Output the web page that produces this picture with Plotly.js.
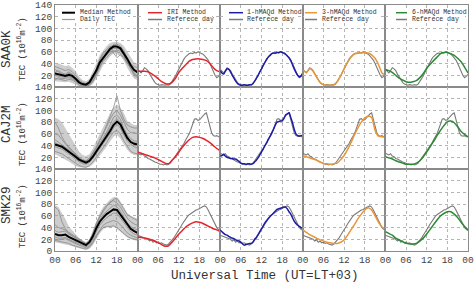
<!DOCTYPE html>
<html>
<head>
<meta charset="utf-8">
<script src="https://cdn.plot.ly/plotly-3.0.1.min.js"></script>
<style>
  html, body { margin: 0; padding: 0; background: #fff; }
  #chart { width: 474px; height: 284px; }
</style>
</head>
<body>
<div id="chart"></div>
<script>
// Stations (rows) and forecasting methods (columns 2-5)
const stations = ['SAA0K', 'CAJ2M', 'SMK29'];
const methodNames = ['IRI Method', '1-hMAQd Method', '3-hMAQd Method', '6-hMAQd Method'];
const methodColors = ['#e3242b', '#1c1ca6', '#e8963a', '#2b8a34'];
const hourTickLabels = ['00', '06', '12', '18', '00'];
const yTickValues = [0, 20, 40, 60, 80, 100, 120, 140];

const hours = [0,1,2,3,4,5,6,7,8,9,10,11,12,13,14,15,16,17,18,19,20,21,22,23,24];
const halfHours = [0,0.5,1,1.5,2,2.5,3,3.5,4,4.5,5,5.5,6,6.5,7,7.5,8,8.5,9,9.5,10,10.5,11,11.5,
  12,12.5,13,13.5,14,14.5,15,15.5,16,16.5,17,17.5,18,18.5,19,19.5,20,20.5,21,21.5,22,22.5,23,23.5,24];

// ---- SAA0K ----
const medianSAA0K = [23,22,20,19,21,19,14,8,5,4,8,17,28,42,50,57,65,69,69,66,58,48,37,29,25];
const upperSAA0K  = [38,40,38,36,37,33,27,18,12,10,14,26,40,54,63,70,75,77,77,75,70,60,50,42,40];
const lowerSAA0K  = [10,9,8,8,9,7,4,1,0,0,1,5,14,27,37,45,52,57,56,53,45,33,22,14,12];
const dailySAA0K = [
  [35,33,30,28,30,26,20,12,8,6,9,18,31,45,55,62,68,72,73,70,62,50,40,35,33],
  [15,14,12,11,13,12,8,3,1,1,3,9,22,36,46,54,62,66,66,64,55,42,30,20,16],
  [25,28,24,22,26,22,16,9,4,3,6,14,26,40,50,58,67,71,70,68,60,48,36,28,27],
  [20,18,17,17,18,16,11,6,3,2,5,12,24,38,48,56,60,62,60,58,52,42,30,22,19],
  [30,26,22,20,24,20,14,8,5,4,7,15,30,48,58,65,70,58,50,55,50,40,34,30,28],
  [12,16,14,15,16,14,10,5,2,1,4,10,20,33,44,50,57,60,63,61,56,45,33,24,18]
];
const refSAA0K = [30,27,24,28,33,31,28,22,17,12,8,5,4,3,4,3,3,4,3,5,9,14,19,25,31,37,43,48,52,55,57,58,57,59,58,60,59,57,56,53,50,46,40,33,26,20,16,18,22];
const iriSAA0K = [27,27,27,26,23,19,14,9,6,5,8,15,25,32,38,44,47,48,48,47,45,40,33,28,26];
const h1SAA0K  = [28,24,22,27,31,30,26,20,15,10,6,4,3,3,4,3,3,4,4,6,10,15,20,26,31,37,42,47,51,54,57,58,58,59,59,60,59,58,56,53,50,45,38,31,25,20,17,19,24];
const h3SAA0K  = [29,25,31,27,17,8,4,3,3,4,9,19,31,42,51,56,58,58,59,58,55,49,38,24,20];
const h6SAA0K  = [30,28,25,20,15,12,9,8,9,11,16,23,32,39,45,51,57,59,59,57,54,49,43,34,24];

// ---- CAJ2M ----
const medianCAJ2M = [42,40,38,34,30,26,21,16,13,11,14,21,30,38,46,56,65,75,81,76,64,53,46,43,42];
const upperCAJ2M  = [88,85,80,70,60,50,40,30,24,22,25,35,48,60,72,85,95,105,110,104,95,82,78,75,75];
const lowerCAJ2M  = [25,22,20,17,13,9,5,3,2,2,4,8,15,22,30,38,47,55,58,52,42,33,27,24,23];
const dailyCAJ2M = [
  [80,70,55,45,38,32,26,20,16,14,18,26,36,48,60,75,90,105,125,100,85,75,72,70,70],
  [30,28,26,22,18,14,10,6,4,3,6,12,20,28,36,45,55,63,66,60,48,38,30,27,26],
  [50,46,42,38,33,28,23,18,14,12,16,24,34,43,52,63,75,88,92,85,70,58,52,48,47],
  [38,36,34,30,26,22,17,12,9,8,11,18,27,35,43,52,60,70,76,70,58,48,42,38,36],
  [60,58,50,42,36,30,24,18,15,14,18,27,38,50,60,72,85,95,100,92,80,68,62,62,60],
  [45,42,40,36,30,25,19,14,11,10,13,20,30,40,50,60,70,80,86,80,66,55,48,45,44]
];
const refCAJ2M = [27,26,24,26,22,21,18,17,15,14,12,11,9,8,8,7,8,7,8,10,14,18,22,26,30,34,38,44,50,55,60,68,75,85,86,83,84,88,92,94,96,85,75,62,57,56,57,55,55];
const iriCAJ2M = [29,27,25,23,21,19,16,13,10,9,15,21,29,37,44,50,54,55,54,52,49,45,40,35,31];
const h1CAJ2M  = [22,23,25,22,20,19,18,18,17,17,15,13,10,9,9,8,9,9,8,9,12,15,19,24,29,34,40,45,51,56,62,68,75,80,81,82,82,86,92,94,96,88,79,68,60,57,56,57,56];
const h3CAJ2M  = [22,21,19,17,15,12,9,9,8,9,10,16,23,33,45,58,70,80,87,90,88,66,56,55,54];
const h6CAJ2M  = [21,19,17,14,12,10,8,8,8,10,14,21,29,38,47,57,66,74,81,82,79,72,64,59,55];

// ---- SMK29 ----
const medianSMK29 = [29,27,27,28,24,21,18,16,13,10,15,25,39,50,57,63,67,71,70,62,53,44,38,34,31];
const upperSMK29  = [78,75,65,55,42,35,28,22,18,15,20,35,52,65,75,82,88,92,92,85,75,65,60,58,55];
const lowerSMK29  = [15,14,13,12,10,8,6,4,3,2,4,10,20,30,37,40,40,41,38,33,28,23,20,18,17];
const dailySMK29 = [
  [75,70,50,38,30,26,22,18,15,12,16,28,45,58,68,76,82,88,90,82,72,62,58,55,52],
  [18,17,16,15,13,10,8,6,4,3,6,14,25,34,40,42,42,43,40,35,30,25,22,20,19],
  [35,32,33,34,29,25,21,18,15,12,17,28,42,54,62,68,73,78,76,68,58,48,42,38,36],
  [24,22,22,23,20,17,14,12,10,7,11,20,33,44,51,57,61,65,64,56,47,40,33,29,27],
  [45,40,38,36,32,28,24,20,16,13,18,30,48,60,70,78,84,86,82,75,66,56,50,46,44],
  [20,19,20,21,18,15,12,10,8,5,8,16,27,36,44,48,50,52,50,45,38,31,27,24,22]
];
const refSMK29 = [27,26,25,24,23,21,20,17,19,15,17,14,15,13,14,12,11,10,12,15,18,22,27,31,35,41,46,51,56,59,62,64,67,69,70,71,73,74,76,77,75,70,64,58,51,45,40,37,35];
const iriSMK29 = [24,23,22,21,19,17,14,11,8,9,15,22,29,35,41,45,48,50,49,47,44,41,38,36,33];
const h1SMK29  = [36,33,30,28,27,25,23,22,21,19,18,17,15,12,10,11,12,13,13,15,20,23,28,33,38,43,48,52,56,59,62,65,68,71,72,73,74,75,75,72,67,63,57,51,47,44,42,40,38];
const h3SMK29  = [36,32,28,25,22,19,17,15,14,13,13,15,19,27,36,45,55,63,70,74,70,60,49,41,36];
const h6SMK29  = [33,30,27,22,19,16,13,12,12,13,17,22,29,37,45,53,60,64,67,67,63,57,49,42,36];

const medians = [medianSAA0K, medianCAJ2M, medianSMK29];
const uppers = [upperSAA0K, upperCAJ2M, upperSMK29];
const lowers = [lowerSAA0K, lowerCAJ2M, lowerSMK29];
const dailies = [dailySAA0K, dailyCAJ2M, dailySMK29];
const refs = [refSAA0K, refCAJ2M, refSMK29];
// per station: [series, x grid] for IRI, 1-h, 3-h, 6-h
const methodSeries = [
  [[iriSAA0K, hours], [h1SAA0K, halfHours], [h3SAA0K, hours], [h6SAA0K, hours]],
  [[iriCAJ2M, hours], [h1CAJ2M, halfHours], [h3CAJ2M, hours], [h6CAJ2M, hours]],
  [[iriSMK29, hours], [h1SMK29, halfHours], [h3SMK29, hours], [h6SMK29, hours]]
];

const FONT = "'Liberation Mono', 'Courier New', Courier, monospace";
const GRID = '#b4b4b4';
const FRAME = '#8a8a8a';

function ax(i, letter) { return letter + (i === 0 ? '' : i + 1); }

const traces = [];
stations.forEach((st, r) => {
  const ya = ax(r, 'y');
  // column 1: daily TEC bundle and its median
  traces.push({ x: hours, y: lowers[r], xaxis: 'x', yaxis: ya, mode: 'lines',
    line: { width: 0, color: 'rgba(0,0,0,0)' }, hoverinfo: 'skip', showlegend: false });
  traces.push({ x: hours, y: uppers[r], xaxis: 'x', yaxis: ya, mode: 'lines', fill: 'tonexty',
    fillcolor: 'rgba(155,155,155,0.5)', line: { width: 0, color: 'rgba(0,0,0,0)' }, showlegend: false });
  dailies[r].forEach(d => traces.push({ x: hours, y: d, xaxis: 'x', yaxis: ya, mode: 'lines',
    line: { color: '#8a8a8a', width: 0.8 }, showlegend: false }));
  traces.push({ x: hours, y: medians[r], xaxis: 'x', yaxis: ya, mode: 'lines',
    line: { color: '#000', width: 2 }, showlegend: false });
  // columns 2-5: reference day vs. each method
  methodSeries[r].forEach((m, k) => {
    const xa = ax(k + 1, 'x');
    traces.push({ x: halfHours, y: refs[r], xaxis: xa, yaxis: ya, mode: 'lines',
      line: { color: '#7a7a7a', width: 1.1 }, showlegend: false });
    traces.push({ x: m[1], y: m[0], xaxis: xa, yaxis: ya, mode: 'lines',
      line: { color: methodColors[k], width: 1.5, shape: 'spline', smoothing: 0.6 }, showlegend: false });
  });
});

const layout = {
  width: 474, height: 284,
  margin: { l: 55, r: 6, t: 5, b: 33 },
  paper_bgcolor: '#fff', plot_bgcolor: '#fff',
  font: { family: FONT, size: 9, color: '#333' },
  showlegend: false,
  shapes: [], annotations: []
};

for (let c = 0; c < 5; c++) {
  const vals = c < 4 ? [0, 6, 12, 18] : [0, 6, 12, 18, 24];
  layout['xaxis' + (c === 0 ? '' : c + 1)] = {
    domain: [c * 0.2, (c + 1) * 0.2], range: [0, 24], anchor: 'y3',
    tickvals: vals, ticktext: hourTickLabels.slice(0, vals.length),
    showgrid: true, gridcolor: GRID, griddash: 'dot', gridwidth: 1, zeroline: false,
    showline: true, mirror: 'all', linecolor: FRAME, linewidth: 1,
    ticks: '', tickfont: { family: FONT, size: 9.5, color: '#444' }, fixedrange: true
  };
}
for (let r = 0; r < 3; r++) {
  const vals = r < 2 ? yTickValues.slice(1) : yTickValues;
  layout['yaxis' + (r === 0 ? '' : r + 1)] = {
    domain: [1 - (r + 1) / 3, 1 - r / 3], range: [0, 140], anchor: 'x',
    tickvals: vals, showgrid: true, gridcolor: GRID, griddash: 'dot', gridwidth: 1, zeroline: false,
    showline: true, mirror: 'all', linecolor: FRAME, linewidth: 1,
    ticks: '', tickfont: { family: FONT, size: 9.5, color: '#444' }, fixedrange: true
  };
}

// pixel -> paper helpers (plot area is x 55..468, y 5..251)
const px = x => (x - 55) / 413;
const py = y => (251 - y) / 246;

// legends in the top row
const legendFirst = [['Median Method', '#000', 2], ['Daily TEC', '#9a9a9a', 1.2]];
const legendSpots = [
  { box: [58, 128], line: [62, 75], text: 78 },
  { box: [141, 212], line: [148, 162], text: 165 },
  { box: [223, 298], line: [229, 243], text: 245 },
  { box: [304, 380], line: [305, 317], text: 320 },
  { box: [390, 465], line: [396, 407], text: 410 }
];
legendSpots.forEach((s, c) => {
  const entries = c === 0 ? legendFirst :
    [[methodNames[c - 1], methodColors[c - 1], 1.5], ['Referece day', '#7a7a7a', 1.5]];
  layout.shapes.push({ type: 'rect', xref: 'paper', yref: 'paper',
    x0: px(s.box[0]), x1: px(s.box[1]), y0: py(23), y1: py(8),
    fillcolor: '#fff', line: { width: 0 }, layer: 'above' });
  entries.forEach((e, i) => {
    const yy = i === 0 ? 12.7 : 19.5;
    layout.shapes.push({ type: 'line', xref: 'paper', yref: 'paper',
      x0: px(s.line[0]), x1: px(s.line[1]), y0: py(yy), y1: py(yy),
      line: { color: e[1], width: e[2] }, layer: 'above' });
    layout.annotations.push({ xref: 'paper', yref: 'paper', x: px(s.text), y: py(yy),
      xanchor: 'left', yanchor: 'middle', showarrow: false, text: e[0],
      font: { family: FONT, size: 6.5, color: '#333' } });
  });
});

// row labels
const stationY = [49, 124, 205];
const tecY = [49, 134, 216];
stations.forEach((st, r) => {
  layout.annotations.push({ xref: 'paper', yref: 'paper', x: px(7), y: py(stationY[r]),
    xanchor: 'center', yanchor: 'middle', textangle: -90, showarrow: false, text: st,
    font: { family: FONT, size: 12.5, color: '#333' } });
  layout.annotations.push({ xref: 'paper', yref: 'paper', x: px(22), y: py(tecY[r]),
    xanchor: 'center', yanchor: 'middle', textangle: -90, showarrow: false,
    text: 'TEC (10<sup>16</sup>m<sup>-2</sup>)',
    font: { family: FONT, size: 9, color: '#333' } });
});

layout.annotations.push({ xref: 'paper', yref: 'paper', x: px(265), y: py(276),
  xanchor: 'center', yanchor: 'middle', showarrow: false, text: 'Universal Time (UT=LT+03)',
  font: { family: FONT, size: 12.5, color: '#333' } });

Plotly.newPlot('chart', traces, layout, { displayModeBar: false, staticPlot: true });
</script>
</body>
</html>
